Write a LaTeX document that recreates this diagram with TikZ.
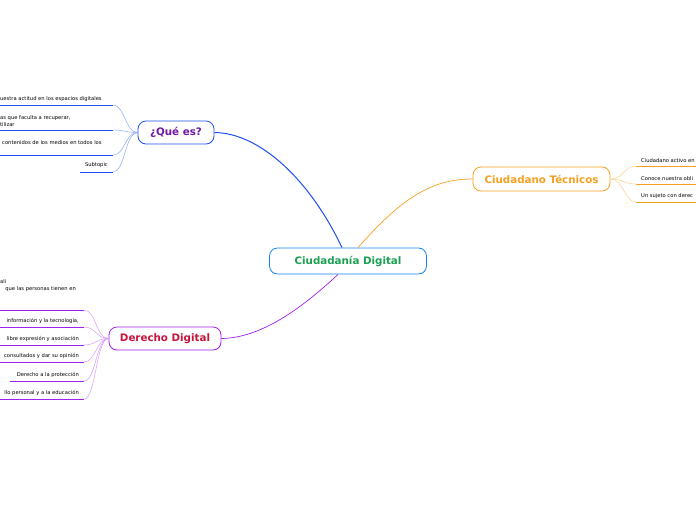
\documentclass[tikz,border=0pt]{standalone}
\usepackage{fontspec}
\setmainfont{DejaVu Sans}
\begin{document}
\begin{tikzpicture}[x=1pt,y=-1pt,
 main/.style={draw=#1,rounded corners=8pt,line width=0.8pt,fill=white,font=\bfseries\fontsize{10.3}{12}\selectfont,inner sep=0pt},
 sub/.style={font=\fontsize{5.2}{7}\selectfont,align=right,inner sep=0pt},
 subr/.style={font=\fontsize{5.2}{7}\selectfont,align=left,inner sep=0pt}]
\useasboundingbox (0,0) rectangle (696,520);
\definecolor{cblue}{HTML}{1F4FF0}\definecolor{corange}{HTML}{F5A020}
\definecolor{cpurple}{HTML}{A020F0}\definecolor{cgreen}{HTML}{1AA050}
\definecolor{ccrim}{HTML}{C8143C}
% central
\node[main=cblue!70!cyan,minimum width=157pt,minimum height=26pt,text=cgreen] (c) at (348,261) {Ciudadanía Digital};
\node[main=cblue,minimum width=76pt,minimum height=23pt,text=cpurple!70!black] (q) at (176,132.5) {¿Qué es?};
\node[main=corange,minimum width=137pt,minimum height=24pt,text=corange] (t) at (541.5,179) {Ciudadano Técnicos};
\node[main=cpurple,minimum width=112pt,minimum height=23pt,text=ccrim] (d) at (165,338.5) {Derecho Digital};
\draw[cblue,line width=1pt] (c.north)++(-6,0) coordinate (c1) (c1) .. controls (310,180) and (260,133) .. (q.east);
\draw[corange,line width=0.7pt] (c.north)++(10,0) coordinate (c2) (c2) .. controls (400,200) and (430,179) .. (t.west);
\draw[cpurple,line width=0.7pt] (c.south)++(-10,0) coordinate (c3) (c3) .. controls (300,310) and (260,338) .. (d.east);
% Que es subtopics
\foreach \n/\y/\xs in {a/105/0,b/130/0,cc/155/0,dd/172/80}{
 \coordinate (q\n) at (113,\y);
 \draw[cblue,line width=1pt] (\xs,\y) -- (q\n);
 \draw[cblue!50,line width=0.5pt] (q.west) .. controls (125,132.5) and (125,\y) .. (q\n);
}
\node[sub,anchor=south west] at (0,102) {uestra actitud en los espacios digitales};
\node[sub,anchor=south west,align=left] at (0,126.5) {as que faculta a recuperar,\\ tilizar};
\node[sub,anchor=south west] at (2,145) {contenidos de los medios en todos los};
\node[sub,anchor=south east] at (108,168) {Subtopic};
% Ciudadano subtopics
\foreach \n/\y/\txt in {a/166/{Ciudadano activo en},b/184/{Conoce nuestra obli},c/202/{Un sujeto con derec}}{
 \coordinate (t\n) at (636,\y);
 \draw[corange,line width=1pt] (t\n) -- (696,\y);
 \draw[corange!50,line width=0.5pt] (t.east) .. controls (624,179) and (624,\y) .. (t\n);
 \node[subr,anchor=south west] at (641,\y-3) {\txt};
}
% Derecho subtopics
\foreach \n/\y/\xs in {a/310/0,b/327/0,c/345/0,d/362/0,e/381/10,f/399/0}{
 \coordinate (d\n) at (84,\y);
 \draw[cpurple,line width=1pt] (\xs,\y) -- (d\n);
 \draw[cpurple!45,line width=0.5pt] (d.west) .. controls (96,338.5) and (96,\y) .. (d\n);
}
\node[sub,anchor=south west,align=left] at (0,292) {ali\\ \quad que las personas tienen en};
\node[sub,anchor=south east] at (79,324) {información y la tecnología,};
\node[sub,anchor=south east] at (79,342) {libre expresión y asociación};
\node[sub,anchor=south east] at (79,359) {consultados y dar su opinión};
\node[sub,anchor=south east] at (79,378) {Derecho a la protección};
\node[sub,anchor=south east] at (79,396) {llo personal y a la educación};
\end{tikzpicture}
\end{document}
